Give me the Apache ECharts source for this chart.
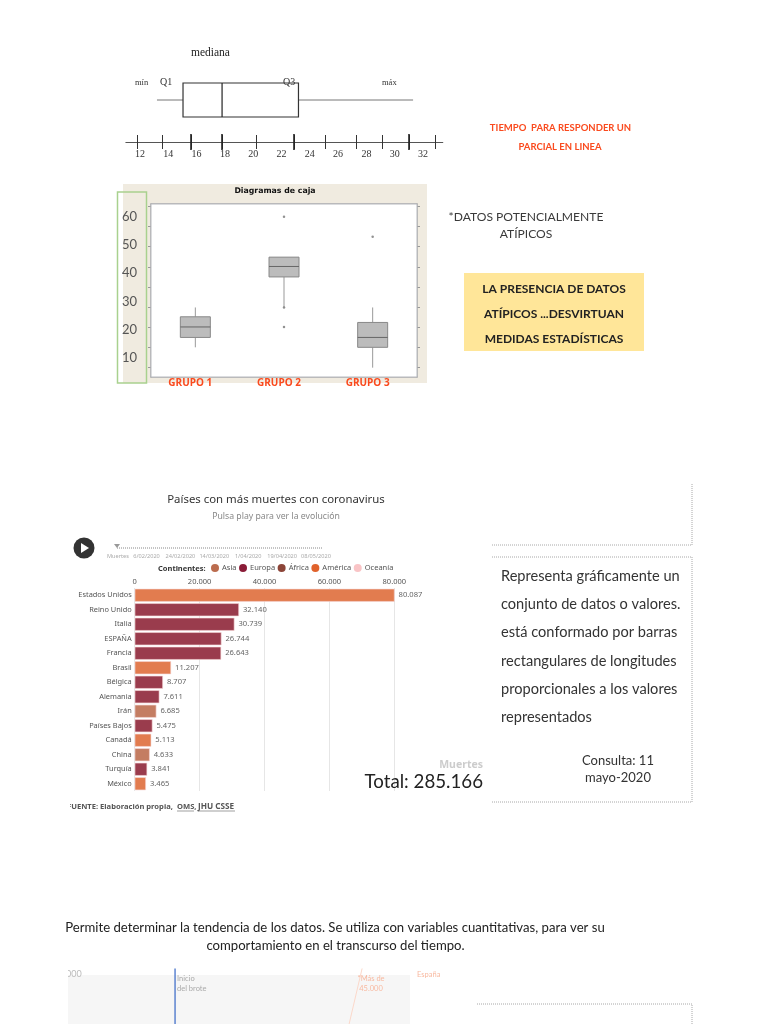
<!DOCTYPE html>
<html><head><meta charset="utf-8">
<style>html,body{margin:0;padding:0;background:#fff}#c{width:768px;height:1024px;filter:blur(.45px)}</style>
<script src="https://cdn.jsdelivr.net/npm/echarts@6/dist/echarts.min.js"></script>
</head><body><div id="c"></div>
<script>
// schematic box plot
const rulerLabels = [12,14,16,18,20,22,24,26,28,30,32];
const rulerTicks = [11.8,13.6,15.6,17.8,20.2,22.9,25.1,27.3,29.1,31.0,32.9];
const rulerMajorTicks = [15.6,17.8,22.9,31.0];
const schematicBox = [0,13.2,15.04,17.8,23.2,31.3];
// group box plots: [index, low, q1, median, q3, high]
const groups = ['GRUPO 1','GRUPO 2','GRUPO 3'];
const group1Box = [0,13.8,17.3,21,24.6,27.9];
const group2Box = [1,27.9,38.7,42.4,45.7,45.7];
const group3Box = [2,6.6,13.8,17.3,22.6,27.9];
const groupOutliers = [[1,60],[1,27.9],[1,21],[2,52.9]];
const groupLabels = [10,20,30,40,50,60];
const groupTicks = [6.6,13.8,20.9,27.9,35,42.3,49.4,56.7,63.8];
// bars
const countries = ['Estados Unidos','Reino Unido','Italia','ESPAÑA','Francia','Brasil','Bélgica','Alemania','Irán','Países Bajos','Canadá','China','Turquía','México'];
const deaths = [80087,32140,30739,26744,26643,11207,8707,7611,6685,5475,5113,4633,3841,3465];
const continentOf = ['América','Europa','Europa','Europa','Europa','América','Europa','Europa','Asia','Europa','América','Asia','Europa','América'];
const continents = ['Asia','Europa','África','América','Oceanía'];
const continentColors = ['#bb6c4e','#8a1c38','#8c4538','#e0622c','#f9c4c6'];
const barColors = ['#c47d62','#9a3c4d','#8c4538','#e27c4f','#f9c4c6'];
const timelineDates = ['6/02/2020','24/02/2020','14/03/2020','1/04/2020','19/04/2020','08/05/2020'];
// trend fragment
const spainLine = [[82.2,30000],[86,47000]];
const outbreakLine = [[31.3,30000],[31.3,47000]];

const dot = v => String(v).replace(/\B(?=(\d{3})+$)/g,'.');
function boxSeries(xi,yi,data,horizontal,c){
  return {type:'custom',xAxisIndex:xi,yAxisIndex:yi,data:[data],clip:false,z:5,
    encode:horizontal?{x:[1,2,3,4,5],y:0}:{x:0,y:[1,2,3,4,5]},
    renderItem(p,api){
      const i=api.value(0), pt=v=>horizontal?api.coord([v,i]):api.coord([i,v]);
      const hw=c.w/2;
      const seg=(a,b,w,col)=>({type:'line',shape:{x1:a[0],y1:a[1],x2:b[0],y2:b[1]},style:{stroke:col,lineWidth:w}});
      const lo=pt(api.value(1)),q1=pt(api.value(2)),m=pt(api.value(3)),q3=pt(api.value(4)),hi=pt(api.value(5));
      const rect=horizontal?{x:q1[0],y:q1[1]-hw,width:q3[0]-q1[0],height:2*hw}:{x:q3[0]-hw,y:q3[1],width:2*hw,height:q1[1]-q3[1]};
      const mid=horizontal?seg([m[0],m[1]-hw],[m[0],m[1]+hw],c.mw,c.med):seg([m[0]-hw,m[1]],[m[0]+hw,m[1]],c.mw,c.med);
      return {type:'group',children:[
        seg(lo,q1,c.ww,c.whisk),seg(q3,hi,c.ww,c.whisk),
        {type:'rect',shape:rect,style:{fill:c.fill,stroke:c.stroke,lineWidth:c.bw}},mid]};
    }};
}
const T=(text,x,y,o={})=>({type:'text',x,y,z:o.z||10,style:{text,fill:o.c||'#333',font:`${o.w||'normal'} ${o.s||10}px ${o.f||'Lato'}`,textAlign:o.a||'left',textVerticalAlign:'middle'}});
const R=(x,y,w,h,fill,o={})=>({type:'rect',z:o.z===undefined?1:o.z,shape:{x,y,width:w,height:h},style:{fill:fill,stroke:o.s||null,lineWidth:o.lw||0}});
const PL=(pts)=>({type:'polyline',z:2,shape:{points:pts},style:{stroke:'#a8a8a8',lineWidth:1,lineDash:[1,1],fill:null}});

const graphics=[
  T('mediana',191,53,{f:'Liberation Serif',s:11.5,c:'#222'}),
  T('mín',135,83,{f:'Liberation Serif',s:8.5}),
  T('Q1',160,82,{f:'Liberation Serif',s:10}),
  T('Q3',283,82,{f:'Liberation Serif',s:10}),
  T('máx',382,83,{f:'Liberation Serif',s:8.5}),
  T('TIEMPO  PARA RESPONDER UN',560.5,128,{w:'bold',s:9.5,c:'#fa4a1e',a:'center'}),
  T('PARCIAL EN LINEA',560,147,{w:'bold',s:9.5,c:'#fa4a1e',a:'center'}),
  T('*DATOS POTENCIALMENTE',526,217,{s:12.1,c:'#3a3a3a',a:'center'}),
  T('ATÍPICOS',526,234,{s:12.1,c:'#3a3a3a',a:'center'}),
  R(464,273,180,78,'#ffe699'),
  T('LA PRESENCIA DE DATOS',554,289.5,{w:'bold',s:12,c:'#222',a:'center'}),
  T('ATÍPICOS ...DESVIRTUAN',554,314.5,{w:'bold',s:12,c:'#222',a:'center'}),
  T('MEDIDAS ESTADÍSTICAS',554,339.5,{w:'bold',s:12,c:'#222',a:'center'}),
  R(123,184,304,199,'#f0ebe0',{z:-5}),
  R(117.5,192,29,191,null,{s:'#a9d18e',lw:1.5,z:3}),
  T('Diagramas de caja',275,191,{f:'DejaVu Sans',w:'bold',s:7.8,c:'#111',a:'center'}),
  T('Países con más muertes con coronavirus',276,500,{f:'Noto Sans',s:11.4,c:'#333',a:'center'}),
  T('Pulsa play para ver la evolución',276,517,{f:'Noto Sans',s:8.7,c:'#888',a:'center'}),
  {type:'circle',z:3,shape:{cx:84,cy:548,r:10.5},style:{fill:'#333'}},
  {type:'polygon',z:4,shape:{points:[[81,543],[81,553],[89,548]]},style:{fill:'#fff'}},
  {type:'line',z:3,shape:{x1:117,y1:548,x2:322,y2:548},style:{stroke:'#888',lineWidth:1,lineDash:[1,1]}},
  {type:'polygon',z:3,shape:{points:[[114,544],[120,544],[117,548]]},style:{fill:'#999'}},
  T('Muertes',107,556,{f:'Noto Sans',s:5.6,c:'#aaa'}),
  ...timelineDates.map((d,i)=>T(d,146.5+i*33.9,556,{f:'Noto Sans',s:5.6,c:'#aaa',a:'center'})),
  T('Continentes:',158,569,{f:'Noto Sans',w:'bold',s:7.5,c:'#333'}),
  T('Muertes',483,765,{f:'Noto Sans',w:'bold',s:10.5,c:'#ccc',a:'right'}),
  T('Total: 285.166',483,782,{s:18.7,c:'#222',a:'right'}),
  T('FUENTE: Elaboración propia, ',67,806.5,{f:'Noto Sans',w:'bold',s:7.6,c:'#555'}),
  T('OMS,',177,806.5,{f:'Noto Sans',w:'bold',s:7.6,c:'#555'}),
  T('JHU CSSE',198,806.5,{f:'Noto Sans',w:'bold',s:8.2,c:'#555'}),
  {type:'line',z:10,shape:{x1:177,y1:811,x2:194,y2:811},style:{stroke:'#777',lineWidth:.7}},
  {type:'line',z:10,shape:{x1:198,y1:811,x2:235,y2:811},style:{stroke:'#777',lineWidth:.7}},
  R(60,800,10,12,'#fff',{z:11}),
  PL([[692,484],[692,545],[492,545]]),
  PL([[492,557],[692,557],[692,802],[492,802]]),
  ...['Representa gráficamente un','conjunto de datos o valores.','está conformado por barras','rectangulares de longitudes','proporcionales a los valores','representados'].map((l,i)=>T(l,501,576+i*28.3,{s:14.6,c:'#333'})),
  T('Consulta: 11',618,761,{s:13,c:'#333',a:'center'}),
  T('mayo-2020',618,778,{s:13,c:'#333',a:'center'}),
  T('Permite determinar la tendencia de los datos. Se utiliza con variables cuantitativas, para ver su',335,928,{s:13.15,c:'#222',a:'center'}),
  T('comportamiento en el transcurso del tiempo.',335.5,946,{s:13.15,c:'#222',a:'center'}),
  R(55,920,11,16,'#fff',{z:11}),
  T('000',66,974,{s:9,c:'#bbb'}),
  R(55,966,13,16,'#fff',{z:11}),
  T('Inicio',177,979,{s:7.5,c:'#aaa'}),
  T('del brote',177,989,{s:7.5,c:'#aaa'}),
  T('*Más de',371,979,{s:7.5,c:'#f8b9a0',a:'center'}),
  T('45.000',371,989,{s:7.5,c:'#f8b9a0',a:'center'}),
  T('España',417,975,{s:7.5,c:'#f8b9a0'}),
  PL([[477,1004],[692,1004],[692,1024]])
];

const grayLine={lineStyle:{color:'#aaa',width:1.5}};
const rulerBase={gridIndex:0,type:'value',position:'bottom',min:11,max:33.4,splitLine:{show:false}};
const option={
  animation:false,
  textStyle:{fontFamily:'Lato'},
  graphic:{elements:graphics},
  legend:{left:206,top:559,itemWidth:8,itemHeight:8,itemGap:2.5,icon:'circle',selectedMode:false,
    data:continents.map((name,i)=>({name,itemStyle:{color:continentColors[i],borderWidth:0,opacity:1}})),
    textStyle:{fontFamily:'Noto Sans',fontSize:7.5,color:'#555',padding:[0,0,0,-2]}},
  grid:[
    {left:125.85,top:58,width:316.95,height:84},
    {left:151,top:204,width:266,height:173,show:true,backgroundColor:'#fff',z:1},
    {left:134.7,top:588,width:259.6,height:203},
    {left:68,top:975,width:342,height:49,show:true,backgroundColor:'#f6f6f6',borderWidth:0}
  ],
  xAxis:[
    {...rulerBase,
      axisLine:{show:true,onZero:false,lineStyle:{color:'#555',width:1}},
      axisTick:{show:true,length:7,customValues:rulerTicks,lineStyle:{color:'#333'}},
      axisLabel:{customValues:rulerLabels,margin:7,fontFamily:'Liberation Serif',fontSize:10,color:'#333',showMinLabel:true,showMaxLabel:true}},
    {...rulerBase,
      axisLine:{show:false},axisLabel:{show:false},
      axisTick:{show:true,inside:true,length:7,customValues:rulerTicks,lineStyle:{color:'#333'}}},
    {gridIndex:1,type:'category',data:groups,position:'bottom',
      axisLine:grayLine,axisTick:{alignWithLabel:true,length:3,lineStyle:{color:'#999'}},
      axisLabel:{margin:1,fontFamily:'Open Sans',fontWeight:'bold',fontSize:10,color:'#fa4a1e',padding:[0,10,0,0],interval:0}},
    {gridIndex:1,type:'category',data:groups,position:'top',
      axisLine:grayLine,axisTick:{alignWithLabel:true,length:3,lineStyle:{color:'#999'}},axisLabel:{show:false}},
    {gridIndex:2,type:'value',position:'top',min:0,max:80000,interval:20000,
      axisLine:{show:false},axisTick:{show:false},splitLine:{lineStyle:{color:'#e6e6e6'}},
      axisLabel:{margin:2,fontFamily:'Noto Sans',fontSize:7.5,color:'#555',formatter:dot}},
    {gridIndex:3,type:'value',min:0,max:100,show:false},
    {...rulerBase,axisLine:{show:false},axisLabel:{show:false},
      axisTick:{show:true,length:8,customValues:rulerMajorTicks,lineStyle:{color:'#222',width:1.6}}},
    {...rulerBase,axisLine:{show:false},axisLabel:{show:false},
      axisTick:{show:true,inside:true,length:8,customValues:rulerMajorTicks,lineStyle:{color:'#222',width:1.6}}}
  ],
  yAxis:[
    {gridIndex:0,type:'category',data:['caja'],show:false},
    {gridIndex:1,type:'value',min:3.3,max:64.5,splitLine:{show:false},
      axisLine:{show:true,...grayLine},axisTick:{show:true,length:3,customValues:groupTicks,lineStyle:{color:'#999'}},
      axisLabel:{customValues:groupLabels,margin:14,fontSize:13,color:'#555'}},
    {gridIndex:1,type:'value',position:'right',min:3.3,max:64.5,splitLine:{show:false},
      axisLine:{show:true,...grayLine},axisTick:{show:true,length:3,customValues:groupTicks,lineStyle:{color:'#999'}},axisLabel:{show:false}},
    {gridIndex:2,type:'category',data:countries,inverse:true,axisLine:{show:false},axisTick:{show:false},
      axisLabel:{margin:3,interval:0,fontFamily:'Noto Sans',fontSize:7.4,color:'#555'}},
    {gridIndex:3,type:'value',min:30000,max:45000,show:false}
  ],
  series:[
    boxSeries(0,0,schematicBox,true,{w:34,fill:'#fff',stroke:'#333',bw:1.2,mw:1.2,med:'#222',ww:1,whisk:'#777'}),
    ...[group1Box,group2Box,group3Box].map(b=>boxSeries(2,1,b,false,{w:30,fill:'#bcbcbc',stroke:'#888',bw:1,mw:1,med:'#666',ww:1,whisk:'#999'})),
    {type:'scatter',xAxisIndex:2,yAxisIndex:1,data:groupOutliers,symbolSize:2.5,itemStyle:{color:'#777'},z:6},
    ...continents.map((name,ci)=>({
      name,type:'bar',xAxisIndex:4,yAxisIndex:3,stack:'c',barWidth:13,
      itemStyle:{color:barColors[ci],borderColor:'#f6d6d6',borderWidth:.6},
      label:{show:true,position:'right',distance:4,fontFamily:'Noto Sans',fontSize:7.6,color:'#666',formatter:p=>dot(p.value)},
      data:deaths.map((d,i)=>continentOf[i]===name?d:null)
    })),
    {type:'line',xAxisIndex:5,yAxisIndex:4,data:spainLine,showSymbol:false,clip:false,lineStyle:{color:'#fbd8ca',width:1}},
    {type:'line',xAxisIndex:5,yAxisIndex:4,data:outbreakLine,showSymbol:false,clip:false,lineStyle:{color:'#3566c6',width:1.2}}
  ]
};
const chart=echarts.init(document.getElementById('c'));
chart.setOption(option);
</script></body></html>
